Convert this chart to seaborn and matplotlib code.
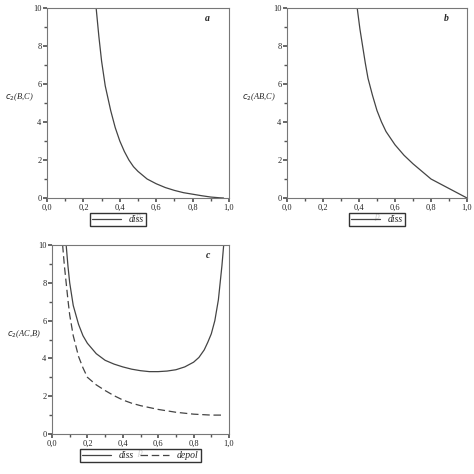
import matplotlib
matplotlib.use("Agg")
import matplotlib.pyplot as plt
import matplotlib.ticker as mticker
import seaborn as sns
import pandas as pd

sns.set_theme(style="white")
plt.rcParams["font.family"] = ["Liberation Serif", "DejaVu Serif"]

# panel a: diss
a_p = [0.27, 0.285, 0.30, 0.32, 0.35, 0.375, 0.40, 0.425, 0.45, 0.475, 0.50, 0.55, 0.60,
       0.65, 0.70, 0.75, 0.80, 0.85, 0.90, 0.95, 0.97]
a_diss = [10.0, 8.5, 7.2, 5.9, 4.6, 3.7, 3.0, 2.45, 2.0, 1.65, 1.4, 1.0, 0.75,
          0.55, 0.4, 0.28, 0.2, 0.12, 0.05, 0.01, 0.0]
# panel b: diss
b_p = [0.39, 0.405, 0.42, 0.435, 0.45, 0.475, 0.50, 0.525, 0.55, 0.60, 0.65, 0.70, 0.75,
       0.80, 0.85, 0.90, 0.95, 1.00]
b_diss = [10.0, 8.9, 8.0, 7.1, 6.3, 5.4, 4.6, 4.0, 3.5, 2.8, 2.25, 1.8, 1.4,
          1.0, 0.75, 0.5, 0.25, 0.0]
# panel c: diss and depol
c_p_diss = [0.08, 0.09, 0.10, 0.12, 0.15, 0.175, 0.20, 0.25, 0.30, 0.35, 0.40, 0.45, 0.50,
            0.55, 0.60, 0.65, 0.70, 0.75, 0.80, 0.83, 0.86, 0.88, 0.90, 0.92, 0.94, 0.95,
            0.96, 0.97]
c_diss = [10.0, 8.9, 8.0, 6.8, 5.8, 5.2, 4.8, 4.25, 3.9, 3.7, 3.55, 3.43, 3.35,
          3.3, 3.3, 3.33, 3.4, 3.55, 3.8, 4.05, 4.45, 4.85, 5.3, 6.0, 7.1, 8.0,
          8.9, 10.0]
c_p_depol = [0.06, 0.07, 0.08, 0.09, 0.10, 0.12, 0.15, 0.175, 0.20, 0.25, 0.30, 0.35, 0.40,
             0.45, 0.50, 0.60, 0.70, 0.80, 0.90, 0.97]
c_depol = [10.0, 8.9, 8.0, 7.1, 6.3, 5.2, 4.1, 3.5, 3.0, 2.6, 2.3, 2.03, 1.8,
           1.63, 1.5, 1.3, 1.15, 1.05, 1.0, 1.0]

fig = plt.figure(figsize=(4.74, 4.74), dpi=100)
W = H = 474.0


def make_ax(l, r, t, b):
    return fig.add_axes([l / W, 1 - b / H, (r - l) / W, (b - t) / H])


def style(ax, ylabel, letter):
    ax.set_xlim(0, 1)
    ax.set_ylim(0, 10)
    ax.set_xticks([0, 0.2, 0.4, 0.6, 0.8, 1.0])
    ax.set_yticks([0, 2, 4, 6, 8, 10])
    ax.xaxis.set_major_formatter(mticker.FuncFormatter(lambda v, _: f"{v:.1f}".replace(".", ",")))
    ax.xaxis.set_minor_locator(mticker.MultipleLocator(0.1))
    ax.yaxis.set_minor_locator(mticker.MultipleLocator(1))
    ax.tick_params(which="both", direction="out", length=3, labelsize=6, color="#555555",
                   bottom=True, left=True, pad=1)
    ax.tick_params(which="minor", length=2)
    for s in ax.spines.values():
        s.set_color("#777777")
        s.set_linewidth(0.8)
    ax.set_xlabel("p", fontsize=7, style="italic", labelpad=0)
    ax.set_ylabel(ylabel, fontsize=6, rotation=0, style="italic", labelpad=10)
    ax.text(0.87, 0.93, letter, transform=ax.transAxes, fontsize=7, style="italic", weight="bold")


def legend(ax, ncol, x):
    ax.legend(loc="upper center", bbox_to_anchor=(x, -0.08), ncol=ncol,
              frameon=True, fancybox=False, edgecolor="black", borderpad=0.2,
              handlelength=3, columnspacing=0.6, borderaxespad=0,
              prop={"style": "italic", "size": 7})


ax_a = make_ax(47, 229, 8, 198)
sns.lineplot(data=pd.DataFrame({"p": a_p, "c": a_diss}), x="p", y="c", ax=ax_a,
             color="#444444", linewidth=0.9, label="diss")
style(ax_a, "$c_2$(B,C)", "a")
legend(ax_a, 1, 0.39)

ax_b = make_ax(287, 467, 8, 198)
sns.lineplot(data=pd.DataFrame({"p": b_p, "c": b_diss}), x="p", y="c", ax=ax_b,
             color="#444444", linewidth=0.9, label="diss")
style(ax_b, "$c_2$(AB,C)", "b")
legend(ax_b, 1, 0.5)

ax_c = make_ax(52, 229, 245, 434)
sns.lineplot(data=pd.DataFrame({"p": c_p_diss, "c": c_diss}), x="p", y="c", ax=ax_c,
             color="#444444", linewidth=0.9, label="diss")
sns.lineplot(data=pd.DataFrame({"p": c_p_depol, "c": c_depol}), x="p", y="c", ax=ax_c,
             color="#444444", linewidth=0.9, linestyle=(0, (6, 3)), label="depol")
style(ax_c, "$c_2$(AC,B)", "c")
legend(ax_c, 2, 0.5)

fig.savefig("out.png", dpi=100, facecolor="white")
